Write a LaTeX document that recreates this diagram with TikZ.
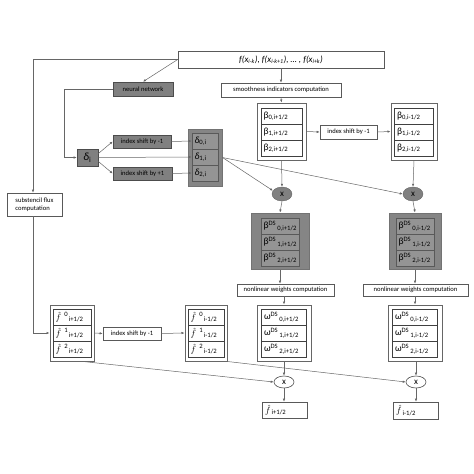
\documentclass[tikz,border=0pt]{standalone}
\usepackage{fontspec}
\setmainfont{Carlito}
\usetikzlibrary{arrows.meta,calc,shapes.geometric}
\newcommand{\fh}[2]{$\hat{f}$\kern3.5pt\textsuperscript{#1}\kern0.5pt\textsubscript{#2}}
\begin{document}
\begin{tikzpicture}[x=1pt,y=-1pt,
  wbox/.style={draw=black!65, fill=white, line width=0.6pt, inner sep=0pt, font=\fontsize{6.6}{7.5}\selectfont},
  dbox/.style={draw=black!70, fill=black!50, line width=0.6pt, inner sep=0pt, font=\fontsize{6.6}{7.5}\selectfont},
  wouter/.style={draw=black!60, fill=white, line width=1pt, inner sep=0pt, minimum height=57},
  douter/.style={draw=black!55, fill=black!48, line width=1pt, inner sep=0pt, minimum height=57},
  wcell/.style={draw=black!75, fill=white, line width=0.6pt, inner xsep=2.5pt, inner ysep=0pt, minimum height=16, text width=#1, align=left, font=\fontsize{9.5}{10}\selectfont},
  dcell/.style={draw=black!65, fill=black!42, line width=0.6pt, inner xsep=2.5pt, inner ysep=0pt, minimum height=16, text width=#1, align=left, font=\fontsize{9.5}{10}\selectfont},
  conn/.style={draw=black!60, line width=0.5pt, -{Latex[length=3pt,width=2.4pt]}},
  dx/.style={ellipse, draw=black!60, fill=black!50, minimum width=20, minimum height=14, inner sep=0pt, font=\fontsize{9}{10}\selectfont},
  wx/.style={ellipse, draw=black!70, fill=white, line width=0.6pt, minimum width=20, minimum height=12, inner sep=0pt, font=\fontsize{9}{10}\selectfont},
]
\useasboundingbox (0,0) rectangle (474,474);
\fill[white] (0,0) rectangle (474,474);

% top row
\node[wbox, minimum width=206, minimum height=17] (top) at (281,59.5)
  {\fontsize{9}{10}\selectfont\itshape f(x\textsubscript{i-k}), f(x\textsubscript{i-k+1}), \dots\ , f(x\textsubscript{i+k})};
\node[dbox, minimum width=60, minimum height=14] (nn) at (143,89) {neural network};
\node[wbox, minimum width=120, minimum height=14] (smooth) at (281,90) {smoothness indicators computation};

% delta part
\node[dbox, minimum width=21, minimum height=17, font=\fontsize{11}{12}\selectfont] (di) at (87.5,157.5) {\itshape δ\textsubscript{\upshape i}};
\node[dbox, minimum width=58, minimum height=13] (sm1) at (142,141.5) {index shift by -1};
\node[dbox, minimum width=59, minimum height=13] (sp1) at (142.5,173.5) {index shift by +1};
\node[douter, minimum width=34] (dst) at (205,157.5) {};
\node[dcell=21pt] (d0) at (205,141) {\itshape δ\textsubscript{\upshape 0,i}};
\node[dcell=21pt] (d1) at (205,157) {\itshape δ\textsubscript{\upshape 1,i}};
\node[dcell=21pt] (d2) at (205,173) {\itshape δ\textsubscript{\upshape 2,i}};

% beta stacks
\node[wouter, minimum width=49] (bL) at (281.5,131.5) {};
\node[wcell=36pt] (bL0) at (281.5,116) {β\textsubscript{0,i+1/2}};
\node[wcell=36pt] (bL1) at (281.5,132) {β\textsubscript{1,i+1/2}};
\node[wcell=36pt] (bL2) at (281.5,148) {β\textsubscript{2,i+1/2}};
\node[wbox, minimum width=57, minimum height=14] (sb) at (348.5,132) {index shift by -1};
\node[wouter, minimum width=46] (bR) at (414,131.5) {};
\node[wcell=34pt] (bR0) at (414,116) {β\textsubscript{0,i-1/2}};
\node[wcell=34pt] (bR1) at (414,132) {β\textsubscript{1,i-1/2}};
\node[wcell=34pt] (bR2) at (414,148) {β\textsubscript{2,i-1/2}};

% multiplication 1
\node[dx] (xL) at (282,194) {x};
\node[dx] (xR) at (413,194) {x};

% beta DS stacks
\node[douter, minimum width=58, minimum height=56] (dsL) at (280,241) {};
\node[dcell=33pt] (dsL0) at (280,226) {β\textsuperscript{DS}\textsubscript{\,0,i+1/2}};
\node[dcell=33pt] (dsL1) at (280,242) {β\textsuperscript{DS}\textsubscript{\,1,i+1/2}};
\node[dcell=33pt] (dsL2) at (280,258) {β\textsuperscript{DS}\textsubscript{\,2,i+1/2}};
\node[douter, minimum width=52, minimum height=56] (dsR) at (415,241) {};
\node[dcell=33pt] (dsR0) at (415,226) {β\textsuperscript{DS}\textsubscript{\,0,i-1/2}};
\node[dcell=33pt] (dsR1) at (415,242) {β\textsuperscript{DS}\textsubscript{\,1,i-1/2}};
\node[dcell=33pt] (dsR2) at (415,258) {β\textsuperscript{DS}\textsubscript{\,2,i-1/2}};

% nonlinear weights
\node[wbox, minimum width=97, minimum height=12] (nlL) at (285.5,290) {nonlinear weights computation};
\node[wbox, minimum width=105, minimum height=12] (nlR) at (415.5,290) {nonlinear weights computation};

% omega stacks
\node[wouter, minimum width=54, minimum height=56] (wL) at (284,333) {};
\node[wcell=40pt] (wL0) at (284,317) {ω\textsuperscript{DS}\textsubscript{\,0,i+1/2}};
\node[wcell=40pt] (wL1) at (284,333) {ω\textsuperscript{DS}\textsubscript{\,1,i+1/2}};
\node[wcell=40pt] (wL2) at (284,349) {ω\textsuperscript{DS}\textsubscript{\,2,i+1/2}};
\node[wouter, minimum width=54, minimum height=56] (wR) at (415,333) {};
\node[wcell=40pt] (wR0) at (415,317) {ω\textsuperscript{DS}\textsubscript{\,0,i-1/2}};
\node[wcell=40pt] (wR1) at (415,333) {ω\textsuperscript{DS}\textsubscript{\,1,i-1/2}};
\node[wcell=40pt] (wR2) at (415,349) {ω\textsuperscript{DS}\textsubscript{\,2,i-1/2}};

% final multiplication and outputs
\node[wx] (xbL) at (284,382) {x};
\node[wx] (xbR) at (416,382) {x};
\node[wbox, minimum width=45, minimum height=16, font=\fontsize{9.5}{10}\selectfont, text width=39pt, inner xsep=3pt, align=left] (oL) at (284.5,410) {$\hat{f}$\textsubscript{\,i+1/2}};
\node[wbox, minimum width=45, minimum height=17, font=\fontsize{9.5}{10}\selectfont, text width=39pt, inner xsep=3pt, align=left] (oR) at (415.5,410.5) {$\hat{f}$\textsubscript{\,i-1/2}};

% substencil flux
\node[wbox, minimum width=55, minimum height=23, align=left, inner xsep=3pt] (sub) at (34.5,204.5) {substencil flux\\computation};

% f-hat stacks
\node[wouter, minimum width=44, minimum height=56] (fL) at (72,333) {};
\node[wcell=33pt] (fL0) at (72,317) {\fh{0}{i+1/2}};
\node[wcell=33pt] (fL1) at (72,333) {\fh{1}{i+1/2}};
\node[wcell=33pt] (fL2) at (72,349) {\fh{2}{i+1/2}};
\node[wbox, minimum width=58, minimum height=13] (sf) at (132,333.5) {index shift by -1};
\node[wouter, minimum width=42, minimum height=56] (fM) at (206,333) {};
\node[wcell=31pt] (fM0) at (206,317) {\fh{0}{i-1/2}};
\node[wcell=31pt] (fM1) at (206,333) {\fh{1}{i-1/2}};
\node[wcell=31pt] (fM2) at (206,349) {\fh{2}{i-1/2}};

\coordinate (c1) at (33,59.5);
\coordinate (c2) at (64,89);
\coordinate (c3) at (33,333);

% connectors
\draw[conn] (top.west) -- (c1) -- (sub.north -| c1);
\draw[conn] (top.west) -- (nn.north);
\draw[conn] (top.south) -- (smooth.north);
\draw[conn] (nn.west) -- (c2) |- (di.west);
\draw[conn] (di.20) -- (sm1.west);
\draw[conn] (di.-20) -- (sp1.west);
\draw[conn] (di.east) -- (d1.west);
\draw[conn] (sm1.east) -- (d0.west);
\draw[conn] (sp1.east) -- (d2.west);
\draw[conn] (dst.east) -- (xL.160);
\draw[conn] (dst.east) -- (xR.west);
\draw[conn] (smooth.south) -- (bL.north);
\draw[conn] (bL.east) -- (sb.west);
\draw[conn] (sb.east) -- (bR.west);
\draw[conn] (bL.south) -- (xL.north);
\draw[conn] (bR.south) -- (xR.north);
\draw[conn] (xL.south) -- (dsL.north);
\draw[conn] (xR.south) -- (dsR.north);
\draw[conn] (dsL.south) -- (dsL.south |- nlL.north);
\draw[conn] (dsR.south) -- (dsR.south |- nlR.north);
\draw[conn] (nlL.south -| wL.north) -- (wL.north);
\draw[conn] (nlR.south -| wR.north) -- (wR.north);
\draw[conn] (wL.south) -- (xbL.north);
\draw[conn] (wR.south -| xbR.north) -- (xbR.north);
\draw[conn] (xbL.south) -- (xbL.south |- oL.north);
\draw[conn] (xbR.south) -- (xbR.south |- oR.north);
\draw[conn] (sub.south -| c3) -- (c3) -- (fL.west);
\draw[conn] (fL.east) -- (sf.west);
\draw[conn] (sf.east) -- (fM.west);
\draw[conn] ($(fL.south)+(11,0)$) -- (xbL.west);
\draw[conn] (fM.south east) -- (xbR.west);
\end{tikzpicture}
\end{document}
